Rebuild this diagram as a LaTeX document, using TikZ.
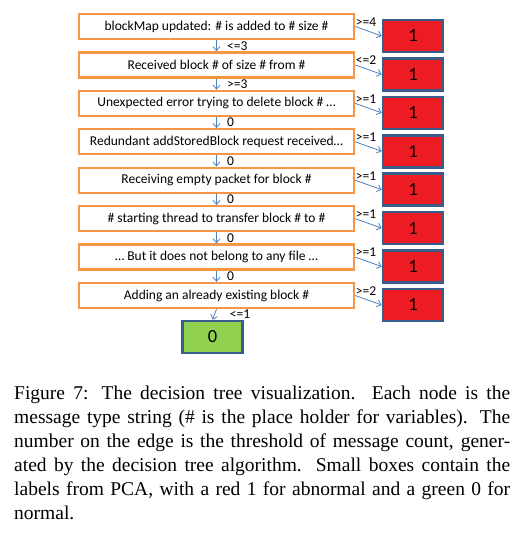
\documentclass[tikz,border=0pt]{standalone}
\usepackage{fontspec}
\setmainfont{Liberation Serif}
\newfontfamily\calibri{Carlito}
\usetikzlibrary{arrows.meta}
\definecolor{boxOrange}{HTML}{F79646}
\definecolor{edgeBlue}{HTML}{4F81BD}
\definecolor{leafBorder}{HTML}{385D8A}
\definecolor{leafRed}{HTML}{ED1C24}
\definecolor{leafGreen}{HTML}{92D050}

\begin{document}
\begin{tikzpicture}[
  x=1pt, y=-1pt,
  font=\calibri\fontsize{13.5}{15}\selectfont,
  msgbox/.style={draw=boxOrange, line width=2.4pt, fill=white, minimum width=275pt, minimum height=25pt, inner sep=0pt},
  leaf/.style={draw=leafBorder, line width=2.6pt, minimum width=60pt, minimum height=32pt, inner sep=0pt, font=\calibri\fontsize{18.5}{20}\selectfont},
  edge/.style={draw=edgeBlue, line width=0.8pt, -{Straight Barb[length=4pt, width=7pt]}},
  thr/.style={inner sep=0pt}
]
\useasboundingbox (0,0) rectangle (523,537);

% message nodes with their abnormal leaves
\foreach \i/\msg/\side in {
  1/{blockMap updated: \# is added to \# size \#}/{>=4},
  2/{Received block \# of size \# from \#}/{<=2},
  3/{Unexpected error trying to delete block \# …}/{>=1},
  4/{Redundant addStoredBlock request received…}/{>=1},
  5/{Receiving empty packet for block \#}/{>=1},
  6/{\# starting thread to transfer block \# to \#}/{>=1},
  7/{… But it does not belong to any file …}/{>=1},
  8/{Adding an already existing block \#}/{>=2}} {
  \pgfmathsetmacro\yy{26.5+(\i-1)*38.43}
  \node[msgbox] (b\i) at (216.5,\yy) {\msg};
  \node[leaf, fill=leafRed] (r\i) at (413,\yy+9.5) {1};
  \draw[edge] (b\i.east) -- (r\i.west);
  \node[thr] (s\i) at (366,\yy-4.5) {\side};
}

% edges down the chain
\foreach \i/\j/\val in {1/2/{<=3}, 2/3/{>=3}, 3/4/0, 4/5/0, 5/6/0, 6/7/0, 7/8/0} {
  \draw[edge] (b\i) -- (b\j);
  \node[thr, anchor=west] (t\i) at (227,26.5+\i*38.43-19.2) {\val};
}

% normal leaf
\node[leaf, fill=leafGreen] (g) at (212.5,337) {0};
\draw[edge] (b8.south) -- (g.north);
\node[thr] (t8) at (240,314) {<=1};

% caption
\node[anchor=north west, text width=496pt, align=justify, inner sep=0pt,
  font=\rmfamily\fontsize{19.5}{24}\selectfont] (caption) at (14,386) {%
  Figure 7: The decision tree visualization.  Each node is the\linebreak
  message type string (\# is the place holder for variables).  The\linebreak
  number on the edge is the threshold of message count, gener-\linebreak
  ated by the decision tree algorithm.  Small boxes contain the\linebreak
  labels from PCA, with a red 1 for abnormal and a green 0 for\linebreak
  normal.};
\end{tikzpicture}
\end{document}
